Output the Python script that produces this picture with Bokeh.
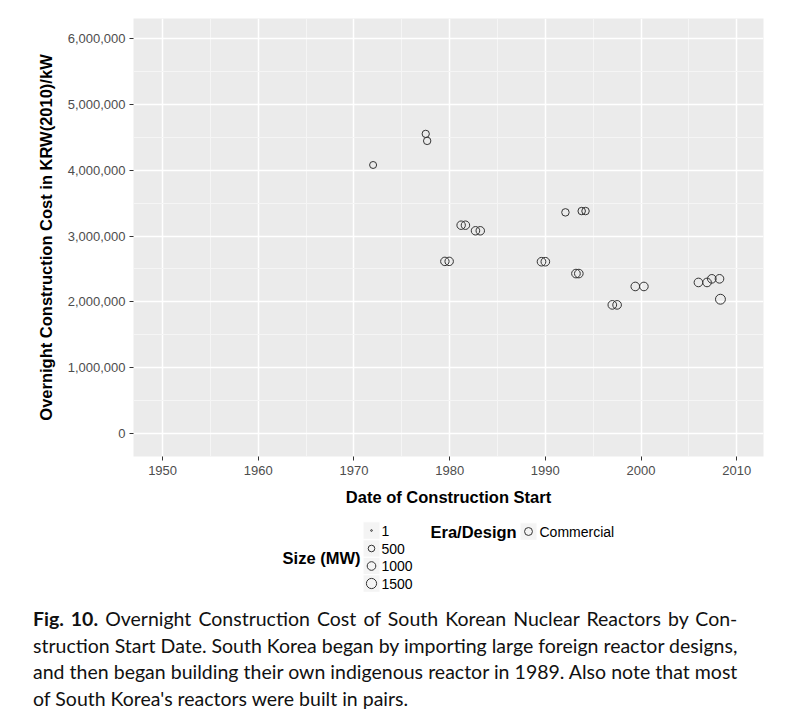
from bokeh.plotting import figure
from bokeh.models import (Range1d, SingleIntervalTicker, NumeralTickFormatter, Div)
from bokeh.layouts import column
from bokeh.embed import file_html
from bokeh.resources import INLINE
from bokeh.core.properties import value
import numpy as np

# ---- data ----
reactors = ["Kori 1", "Kori 2", "Wolsong 1", "Kori 3", "Kori 4", "Yonggwang 1", "Yonggwang 2",
            "Ulchin 1", "Ulchin 2", "Yonggwang 3", "Yonggwang 4", "Wolsong 2", "Ulchin 3", "Ulchin 4",
            "Wolsong 3", "Wolsong 4", "Yonggwang 5", "Yonggwang 6", "Ulchin 5", "Ulchin 6",
            "Shin Kori 1", "Shin Kori 2", "Shin Wolsong 1", "Shin Wolsong 2", "Shin Kori 3"]
start_year = [1972.0, 1977.5, 1977.65, 1979.5, 1979.95, 1981.2, 1981.65, 1982.7, 1983.2,
              1989.6, 1990.0, 1992.1, 1993.2, 1993.5, 1993.8, 1994.2, 1997.0, 1997.5,
              1999.4, 2000.3, 2006.0, 2006.9, 2007.4, 2008.2, 2008.3]
cost = [4080000, 4553000, 4446000, 2615000, 2615000, 3165000, 3165000, 3080000, 3080000,
        2610000, 2610000, 3360000, 2430000, 2430000, 3380000, 3380000, 1954000, 1954000,
        2234000, 2234000, 2295000, 2295000, 2350000, 2350000, 2040000]
size_mw = [587, 650, 679, 950, 950, 950, 950, 950, 950, 1000, 1000, 700, 1000, 1000,
           700, 700, 1000, 1000, 1000, 1000, 1000, 1000, 1000, 1000, 1400]
size_breaks = [1, 500, 1000, 1500]
era_labels = ["Commercial"]
x_ticks_interval = 10
y_ticks_interval = 1000000

def size_px(mw):
    mw = np.asarray(mw, dtype=float)
    return 1.7 * (1 + 5 * np.sqrt((mw - 1) / 1499.0))

FONT = "Liberation Sans"
W = 787
BL, BR = 133, 24

p = figure(width=W, height=510, output_backend="svg", toolbar_location=None,
           x_range=Range1d(1946.96, 2012.8), y_range=Range1d(-350000, 6306000),
           min_border_left=BL, min_border_right=BR, min_border_top=18, min_border_bottom=54)
p.background_fill_color = "#EBEBEB"
p.border_fill_color = "white"
p.outline_line_color = None

p.xaxis.ticker = SingleIntervalTicker(interval=x_ticks_interval, num_minor_ticks=2)
p.yaxis.ticker = SingleIntervalTicker(interval=y_ticks_interval, num_minor_ticks=2)
p.yaxis.formatter = NumeralTickFormatter(format="0,0")

for ax in (p.xaxis, p.yaxis):
    ax.axis_line_color = None
    ax.major_tick_line_color = "#333333"
    ax.major_tick_in = 0
    ax.major_tick_out = 4
    ax.minor_tick_line_color = None
    ax.major_label_text_font = FONT
    ax.major_label_text_font_size = "13px"
    ax.major_label_text_color = "#4D4D4D"
    ax.axis_label_text_font = FONT
    ax.axis_label_text_font_size = "16.5px"
    ax.axis_label_text_font_style = "bold"
    ax.axis_label_text_color = "black"

p.xaxis.axis_label = "Date of Construction Start"
p.yaxis.axis_label = "Overnight Construction Cost in KRW(2010)/kW"
p.xaxis.major_label_standoff = 5
p.xaxis.axis_label_standoff = 10
p.yaxis.major_label_standoff = 4
p.yaxis.axis_label_standoff = 10

for g in (p.xgrid, p.ygrid):
    g.grid_line_color = "white"
    g.grid_line_width = 1.5
    g.minor_grid_line_color = "#F5F5F5"
    g.minor_grid_line_width = 1

p.scatter(x=start_year, y=cost, size=size_px(size_mw), marker="circle",
          fill_color=None, line_color="#333333", line_width=1)

# ---- legend area (pixel coordinates; frame aligned with the main plot) ----
lg = figure(width=W, height=90, output_backend="svg", toolbar_location=None,
            x_axis_type=None, y_axis_type=None,
            x_range=Range1d(BL, W - BR), y_range=Range1d(600, 510),
            min_border_left=BL, min_border_right=BR, min_border_top=0, min_border_bottom=0)
lg.grid.visible = False
lg.outline_line_color = None
lg.background_fill_color = "white"
lg.border_fill_color = "white"

key_y = [530, 548, 565.5, 583]
key_x = [371] * len(size_breaks)
lg.rect(x=key_x, y=key_y, width=17, height=17.5, fill_color="#F4F4F4", line_color="white", line_width=1)
lg.scatter(x=key_x, y=key_y, size=size_px(size_breaks), marker="circle",
           fill_color=None, line_color="#333333", line_width=1)
lg.text(x=[381] * len(size_breaks), y=key_y, text=[str(b) for b in size_breaks],
        text_font=value(FONT), text_font_size="14px", text_baseline="middle",
        text_align="left", text_color="black")
lg.text(x=[360], y=[557], text=["Size (MW)"], text_font=value(FONT), text_font_size="16.5px",
        text_font_style="bold", text_baseline="middle", text_align="right", text_color="black")

lg.text(x=[430], y=[531], text=["Era/Design"], text_font=value(FONT), text_font_size="16.5px",
        text_font_style="bold", text_baseline="middle", text_align="left", text_color="black")
lg.rect(x=[528], y=[531], width=17, height=17.5, fill_color="#F4F4F4", line_color="white", line_width=1)
lg.scatter(x=[528], y=[531], size=size_px([800]), marker="circle",
           fill_color=None, line_color="#333333", line_width=1)
lg.text(x=[539], y=[531], text=era_labels, text_font=value(FONT), text_font_size="14px",
        text_baseline="middle", text_align="left", text_color="black")

# ---- caption ----
lines = [
    "<b>Fig. 10.</b> Overnight Construction Cost of South Korean Nuclear Reactors by Con-",
    "struction Start Date. South Korea began by importing large foreign reactor designs,",
    "and then began building their own indigenous reactor in 1989. Also note that most",
    "of South Korea's reactors were built in pairs.",
]
html = ""
for i, ln in enumerate(lines):
    last = "left" if i == len(lines) - 1 else "justify"
    html += ('<div style="text-align:justify;text-align-last:%s;white-space:nowrap;">%s</div>'
             % (last, ln))
cap = Div(text=html, width=W, height=128,
          styles={"font-family": "Lato, 'Open Sans', sans-serif", "font-size": "19.5px",
                  "line-height": "26.5px", "color": "#111111", "padding": "1px 17px 0 28px",
                  "box-sizing": "border-box", "width": "%dpx" % W})

layout = column(p, lg, cap, spacing=0)
open("out.html", "w").write(file_html(layout, INLINE))
